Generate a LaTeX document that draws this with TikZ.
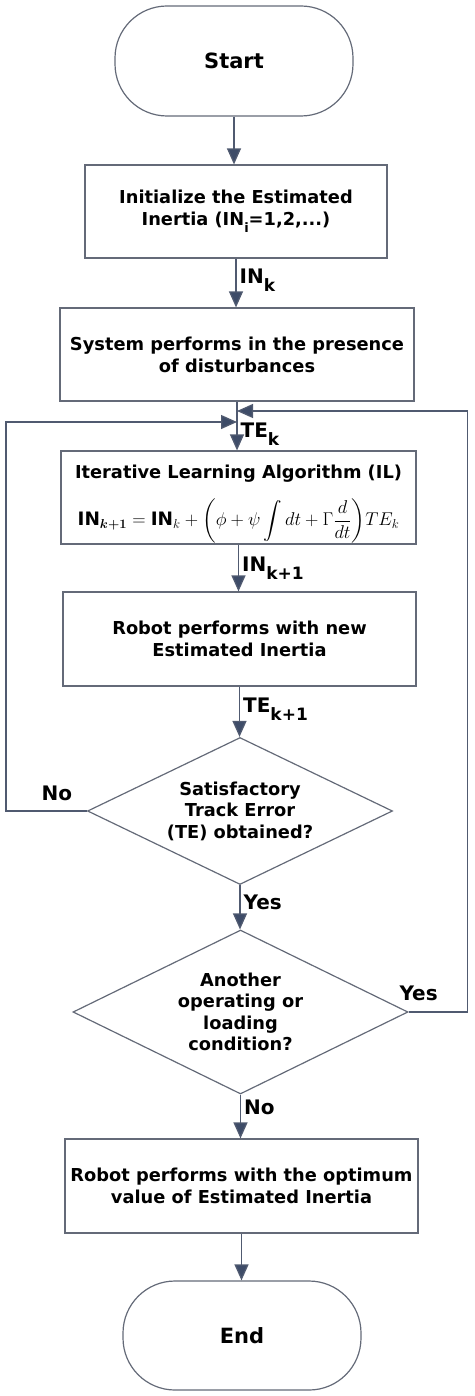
\documentclass[tikz,border=0pt]{standalone}
\usepackage{fix-cm}
\usepackage{amsmath}
\usepackage{amssymb}
\usepackage{bm}
\usepackage{fontspec}
\setmainfont{DejaVu Sans}
\usetikzlibrary{shapes.geometric,arrows.meta}

\definecolor{boxgray}{RGB}{100,106,120}
\definecolor{flowgray}{RGB}{80,90,112}
\definecolor{headblue}{RGB}{62,76,104}

\newcommand{\lowsub}[1]{\raisebox{-0.4em}{\fontsize{17}{17}\selectfont #1}}

\tikzset{
  terminal/.style={draw=boxgray, line width=1.2pt, rounded corners=52pt,
    minimum width=238pt, minimum height=110pt,
    font=\fontsize{21}{24}\selectfont\bfseries},
  process/.style={draw=boxgray, line width=1.2pt, align=center,
    minimum height=93pt, font=\fontsize{17.8}{22}\selectfont\bfseries},
  decision/.style={draw=boxgray, line width=1.2pt, diamond, inner sep=0pt,
    shape aspect=2.2, align=center, font=\fontsize{17.8}{21.5}\selectfont\bfseries},
  flow/.style={draw=flowgray, line width=1.3pt,
    -{Triangle[length=16pt,width=14pt,fill=headblue]}},
  lbl/.style={font=\fontsize{20}{22}\selectfont\bfseries, inner sep=3pt}
}

\begin{document}
\begin{tikzpicture}[x=1pt,y=-1pt]
	\useasboundingbox (0,0) rectangle (474,1396);

	% blocks of the chart
	\node[terminal] (start) at (234,61) {Start};
	\node[process, minimum width=302pt] (init) at (236,211.5)
		{Initialize the Estimated\\Inertia (IN\lowsub{\fontsize{13}{13}\selectfont i}=1,2,...)};
	\node[process, minimum width=354pt] (sys) at (237,354.5)
		{System performs in the presence\\of disturbances};
	\node[process, minimum width=355pt] (il) at (238.5,497.5) {};
	\node[font=\fontsize{17.8}{22}\selectfont\bfseries, inner sep=1pt] (iltitle) at (238.5,474)
		{Iterative Learning Algorithm (IL)};
	\node[font=\fontsize{18.5}{22}\selectfont, inner sep=1pt] (ilformula) at (238.5,521)
		{$\displaystyle\mathbf{IN}_{\bm{k+1}}=\mathbf{IN}_{k}+\biggl(\phi+\psi\int dt+\Gamma\frac{d}{dt}\biggr)TE_k$};
	\node[process, minimum width=353pt, minimum height=94pt] (robot) at (239.5,639)
		{Robot performs with new\\Estimated Inertia};
	\node[decision, minimum width=305pt, minimum height=147pt] (sat) at (240,811)
		{Satisfactory\\Track Error\\(TE) obtained?};
	\node[decision, minimum width=335pt, minimum height=164pt] (cond) at (240.5,1012)
		{Another\\operating or\\loading\\condition?};
	\node[process, minimum width=353pt, minimum height=94pt] (final) at (241.5,1186)
		{Robot performs with the optimum\\value of Estimated Inertia};
	\node[terminal, minimum height=109pt] (end) at (242,1335.5) {End};

	% where the two loops come back
	\coordinate (jleft) at (237,422);
	\coordinate (jright) at (237,411);

	% main flow
	\draw[flow] (start.south) -- (start.south |- init.north);
	\draw[flow] (init.south) -- node[lbl, anchor=west, pos=.45] {IN\lowsub{k}} (init.south |- sys.north);
	\draw[flow] (sys.south) -- node[lbl, anchor=west, pos=.66] {TE\lowsub{k}} (sys.south |- il.north);
	\draw[flow] (il.south) -- node[lbl, anchor=west, pos=.5] {IN\lowsub{k+1}} (il.south |- robot.north);
	\draw[flow] (robot.south) -- node[lbl, anchor=west, pos=.45] {TE\lowsub{k+1}} (robot.south |- sat.north);
	\draw[flow] (sat.south) -- node[lbl, anchor=west, pos=.38] {Yes} (sat.south |- cond.north);
	\draw[flow] (cond.south) -- node[lbl, anchor=west, pos=.3] {No} (cond.south |- final.north);
	\draw[flow] (final.south) -- (final.south |- end.north);

	% loops back
	\draw[flow] (sat.west) -- node[lbl, above, pos=.37, yshift=7pt] {No} ++(-81,0) |- (jleft);
	\draw[flow] (cond.east) -- node[lbl, above, pos=.17, yshift=8pt] {Yes} ++(59,0) |- (jright);
\end{tikzpicture}
\end{document}
